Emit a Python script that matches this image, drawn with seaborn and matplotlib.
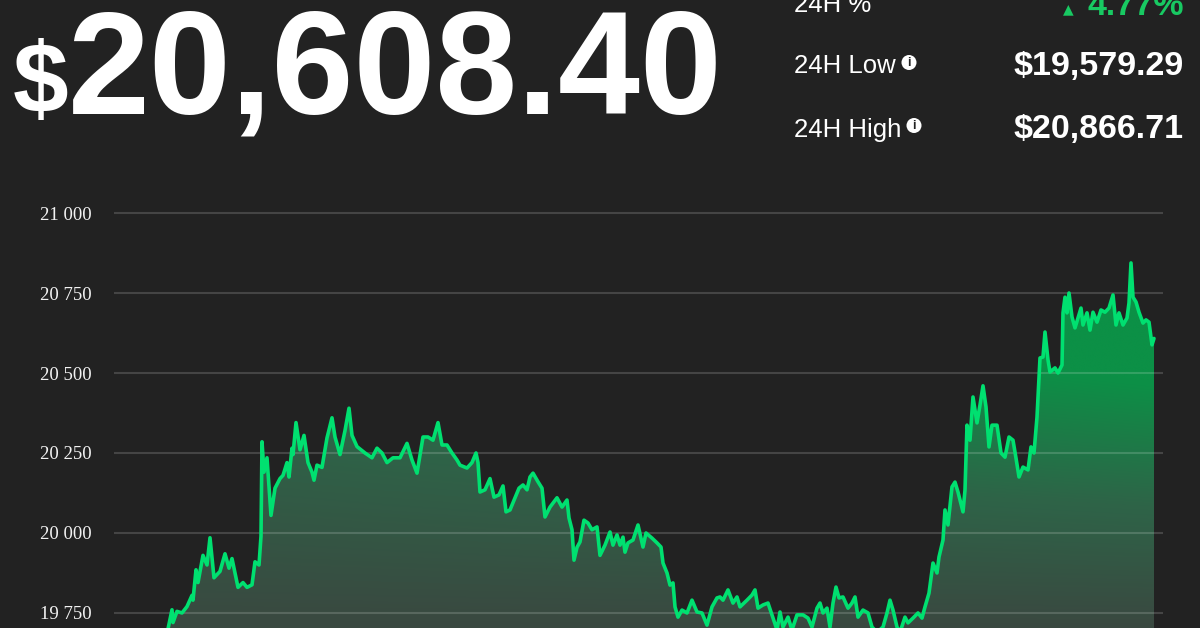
import numpy as np
import pandas as pd
import matplotlib.pyplot as plt
import matplotlib.patches as mpatches
from matplotlib.ticker import FuncFormatter
from matplotlib.colors import LinearSegmentedColormap
import seaborn as sns

# position along the 24h window (arbitrary units) and price in USD
t = [0, 10, 20, 30, 38, 46, 52, 54, 58, 59, 63, 68, 73, 78, 79, 82, 84, 89, 93, 96,
     100, 106, 111, 115, 118, 124, 129, 133, 138, 141, 145, 147, 148, 150, 153, 157, 161, 166, 169, 173,
     175, 178, 179, 182, 186, 190, 194, 198, 200, 203, 208, 213, 218, 221, 226, 231, 235, 238, 243, 251,
     258, 263, 268, 273, 279, 286, 293, 298, 303, 309, 314, 319, 324, 328, 333, 338, 343, 346, 353, 358,
     362, 364, 366, 371, 376, 380, 385, 389, 392, 396, 401, 405, 409, 413, 416, 419, 424, 428, 431, 436,
     443, 448, 453, 455, 458, 460, 463, 466, 470, 474, 478, 483, 486, 491, 496, 499, 503, 506, 509, 511,
     514, 519, 524, 529, 532, 538, 543, 547, 549, 553, 556, 559, 561, 564, 568, 573, 578, 583, 588, 593,
     598, 603, 606, 609, 614, 619, 623, 626, 633, 638, 641, 644, 649, 654, 658, 663, 666, 669, 674, 678,
     683, 689, 694, 698, 703, 706, 709, 713, 716, 719, 722, 725, 729, 734, 738, 741, 744, 749, 754, 758,
     763, 769, 773, 776, 779, 783, 786, 791, 794, 799, 804, 808, 811, 815, 819, 823, 825, 829, 831, 834,
     838, 841, 844, 849, 851, 853, 856, 859, 861, 863, 866, 869, 872, 875, 878, 883, 887, 891, 895, 899,
     902, 905, 909, 914, 917, 920, 923, 926, 929, 931, 934, 936, 941, 944, 948, 949, 951, 953, 955, 958,
     961, 964, 967, 969, 973, 976, 979, 983, 987, 991, 995, 999, 1002, 1005, 1009, 1013, 1015, 1017, 1019, 1022,
     1025, 1029, 1032, 1035, 1038, 1040]
price = [19640, 19620, 19600, 19585, 19610, 19650, 19680, 19700, 19760, 19720, 19755, 19750, 19770, 19805, 19790, 19885, 19845, 19930, 19900, 19985,
         19860, 19880, 19935, 19890, 19920, 19830, 19845, 19830, 19838, 19910, 19900, 19990, 20285, 20190, 20235, 20055, 20140, 20170, 20180, 20220,
         20175, 20265, 20245, 20345, 20260, 20305, 20220, 20190, 20165, 20212, 20205, 20297, 20360, 20300, 20245, 20320, 20390, 20305, 20270, 20250,
         20235, 20265, 20250, 20220, 20235, 20235, 20280, 20228, 20187, 20300, 20300, 20290, 20345, 20275, 20275, 20250, 20228, 20212, 20203, 20220,
         20250, 20220, 20128, 20135, 20170, 20112, 20119, 20147, 20066, 20072, 20110, 20140, 20150, 20135, 20175, 20187, 20160, 20140, 20050, 20081,
         20110, 20081, 20103, 20047, 20010, 19915, 19955, 19972, 20040, 20031, 20010, 20019, 19930, 19962, 20003, 19962, 19994, 19962, 19987, 19940,
         19969, 19978, 20025, 19956, 20000, 19984, 19969, 19956, 19906, 19875, 19837, 19844, 19769, 19737, 19759, 19750, 19790, 19753, 19750, 19712,
         19769, 19797, 19800, 19790, 19822, 19781, 19800, 19769, 19790, 19806, 19822, 19765, 19775, 19781, 19744, 19697, 19753, 19706, 19737, 19697,
         19744, 19744, 19734, 19706, 19765, 19781, 19750, 19765, 19706, 19781, 19831, 19797, 19800, 19765, 19781, 19800, 19737, 19759, 19750, 19706,
         19690, 19706, 19750, 19790, 19759, 19706, 19690, 19737, 19719, 19734, 19750, 19734, 19769, 19812, 19906, 19875, 19925, 19978, 20072, 20025,
         20144, 20159, 20128, 20066, 20134, 20337, 20290, 20425, 20384, 20344, 20400, 20460, 20394, 20269, 20337, 20337, 20250, 20237, 20300, 20290,
         20234, 20175, 20206, 20197, 20269, 20250, 20362, 20547, 20550, 20628, 20541, 20503, 20516, 20500, 20525, 20688, 20737, 20688, 20750, 20675,
         20641, 20672, 20703, 20650, 20688, 20634, 20690, 20659, 20697, 20690, 20703, 20744, 20650, 20688, 20650, 20672, 20719, 20844, 20737, 20722,
         20690, 20656, 20666, 20659, 20588, 20608]

yticks = [19750, 20000, 20250, 20500, 20750, 21000]
price_now = "20,608.40"
stat_labels = ["24H %", "24H Low", "24H High"]
stat_values = ["4.77%", "$19,579.29", "$20,866.71"]

bg = "#222222"
line_green = "#00e070"
text_green = "#18c962"

sns.set_theme(style="dark", rc={"axes.facecolor": bg, "figure.facecolor": bg})
plt.rcParams["font.family"] = ["Liberation Sans", "DejaVu Sans"]

W, H = 1200, 628
fig = plt.figure(figsize=(12, 6.28), dpi=100)
ax = fig.add_axes([114 / W, 0, 1049 / W, 438 / H])
ax.set_facecolor(bg)

df = pd.DataFrame({"t": t, "price": price})

ax.set_xlim(0, 1049)
ax.set_ylim(19703, 21072)

# gradient area under the line: greener toward the top and toward the right
area = ax.fill_between(df["t"], df["price"], 19000, color="none", linewidth=0)
cmap = LinearSegmentedColormap.from_list("fade", ["#3a4840", "#2e6448", "#0c9046"])
yy, xx = np.mgrid[0:1:200j, 0:1:200j]
shade = np.clip(1.5 * yy * (0.55 + 0.45 * xx), 0, 1)
im = ax.imshow(shade, cmap=cmap, vmin=0, vmax=1, aspect="auto", origin="lower",
               extent=[0, 1049, 19700, 20850], zorder=1, interpolation="bicubic")
im.set_clip_path(area.get_paths()[0], transform=ax.transData)

sns.lineplot(data=df, x="t", y="price", ax=ax, color=line_green, linewidth=2.6,
             estimator=None, sort=False, zorder=3)

ax.set_xlim(0, 1049)
ax.set_ylim(19703, 21072)
ax.set_xlabel("")
ax.set_ylabel("")
ax.set_xticks([])
ax.set_yticks(yticks)
ax.yaxis.set_major_formatter(FuncFormatter(lambda v, p: f"{v:,.0f}".replace(",", " ")))
ax.tick_params(axis="y", length=0, pad=16, labelsize=13.5, labelcolor="#f2f2f2",
               labelfontfamily="Liberation Serif")
ax.grid(axis="y", color="white", alpha=0.16, linewidth=1.5, zorder=2)
ax.grid(axis="x", visible=False)
ax.set_axisbelow(False)
for s in ax.spines.values():
    s.set_visible(False)


def px(x, y):
    return x / W, 1 - y / H


# big price
fig.text(*px(13, 113), "$", fontsize=72, fontweight="bold", color="white", va="baseline")
fig.text(*px(68, 113), price_now, fontsize=106, fontweight="bold", color="white", va="baseline")

# stats panel
rows_y = [12, 73, 137]
val_y = [15, 75, 138]
for lab, val, ly, vy in zip(stat_labels, stat_values, rows_y, val_y):
    fig.text(*px(794, ly), lab, fontsize=18.5, color="white", va="baseline")
    fig.text(*px(1184, vy), val, fontsize=24.5, fontweight="bold", ha="right", va="baseline",
             color=text_green if lab == "24H %" else "white")

fig.text(*px(1074, 13), "\u25b2", fontsize=10, color=text_green, ha="right", va="baseline",
         family=["DejaVu Sans"])

# info icons
for cx, cy in [(909, 62.5), (914, 125.5)]:
    fig.patches.append(mpatches.Ellipse(px(cx, cy), 15 / W, 15 / H, transform=fig.transFigure,
                                        facecolor="white", edgecolor="none"))
    fig.text(*px(cx, cy + 0.5), "i", fontsize=9, fontweight="bold", color=bg,
             ha="center", va="center")

fig.savefig("out.png", dpi=100, facecolor=bg)
